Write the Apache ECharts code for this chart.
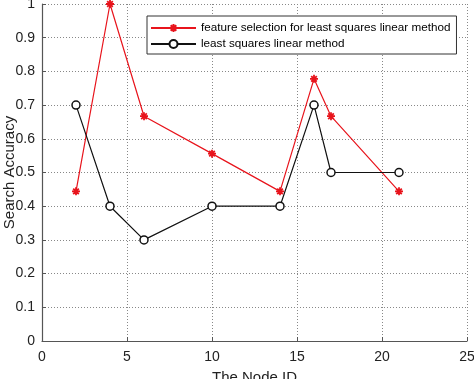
<!DOCTYPE html>
<html><head><meta charset="utf-8">
<script src="https://cdn.jsdelivr.net/npm/echarts@6/dist/echarts.min.js"></script>
<style>html,body{margin:0;padding:0;background:#fff}#c{width:474px;height:379px}</style>
</head><body><div id="c"></div>
<script>
const nodeIds = [2, 4, 6, 10, 14, 16, 17, 21];
const featureSel = [0.444, 1.0, 0.667, 0.556, 0.444, 0.778, 0.667, 0.444];
const leastSq = [0.7, 0.4, 0.3, 0.4, 0.4, 0.7, 0.5, 0.5];
const seriesNames = ['feature selection for least squares linear method', 'least squares linear method'];
const xTicks = [0, 5, 10, 15, 20, 25];
const yTicks = [0, 0.1, 0.2, 0.3, 0.4, 0.5, 0.6, 0.7, 0.8, 0.9, 1];

const font = 'Liberation Sans, Arial, sans-serif';
const star = 'path://M0,-10L0,10M-10,0L10,0M-7,-7L7,7M-7,7L7,-7';
const chart = echarts.init(document.getElementById('c'));
chart.setOption({
  animation: false,
  grid: {left: 42, right: 7, top: 4, bottom: 38, containLabel: false, outerBoundsMode: 'none'},
  legend: {
    orient: 'vertical', left: 147, top: 16,
    borderColor: '#333', borderWidth: 1, backgroundColor: '#fff',
    padding: [6, 6, 4, 3], itemGap: 4, itemWidth: 45, itemHeight: 10,
    textStyle: {fontFamily: font, fontSize: 11.7, color: '#000'},
    data: seriesNames
  },
  xAxis: {
    type: 'value', min: xTicks[0], max: xTicks[xTicks.length-1], interval: 5,
    name: 'The Node ID', nameLocation: 'middle', nameGap: 29, nameMoveOverlap: false,
    nameTextStyle: {fontFamily: font, fontSize: 15, color: '#222'},
    axisLine: {lineStyle: {color: '#555', width: 1.2}},
    axisTick: {inside: true, length: 4, lineStyle: {color: '#555'}},
    axisLabel: {fontFamily: font, fontSize: 14, color: '#222', margin: 9},
    splitLine: {show: true, lineStyle: {color: '#888', type: [1, 2], width: 1}}
  },
  yAxis: {
    type: 'value', min: 0, max: 1, interval: 0.1,
    name: 'Search Accuracy', nameLocation: 'middle', nameGap: 25, nameMoveOverlap: false,
    nameTextStyle: {fontFamily: font, fontSize: 15, color: '#222'},
    axisLine: {show: true, lineStyle: {color: '#555', width: 1.2}},
    axisTick: {show: true, inside: true, length: 4, lineStyle: {color: '#555'}},
    axisLabel: {fontFamily: font, fontSize: 14, color: '#222', margin: 7,
      formatter: v => String(Math.round(v*10)/10)},
    splitLine: {show: true, lineStyle: {color: '#888', type: [1, 2], width: 1}}
  },
  series: [
    {name: seriesNames[0], type: 'line', data: nodeIds.map((x, i) => [x, featureSel[i]]),
     symbol: star, symbolSize: 8, showAllSymbol: true,
     lineStyle: {color: '#e8141c', width: 1.2},
     itemStyle: {color: '#e8141c', borderColor: '#e8141c', borderWidth: 1.8}},
    {name: seriesNames[1], type: 'line', data: nodeIds.map((x, i) => [x, leastSq[i]]),
     symbol: 'circle', symbolSize: 8, showAllSymbol: true,
     lineStyle: {color: '#111', width: 1.2},
     itemStyle: {color: '#fff', borderColor: '#111', borderWidth: 1.5}}
  ]
});
</script></body></html>
